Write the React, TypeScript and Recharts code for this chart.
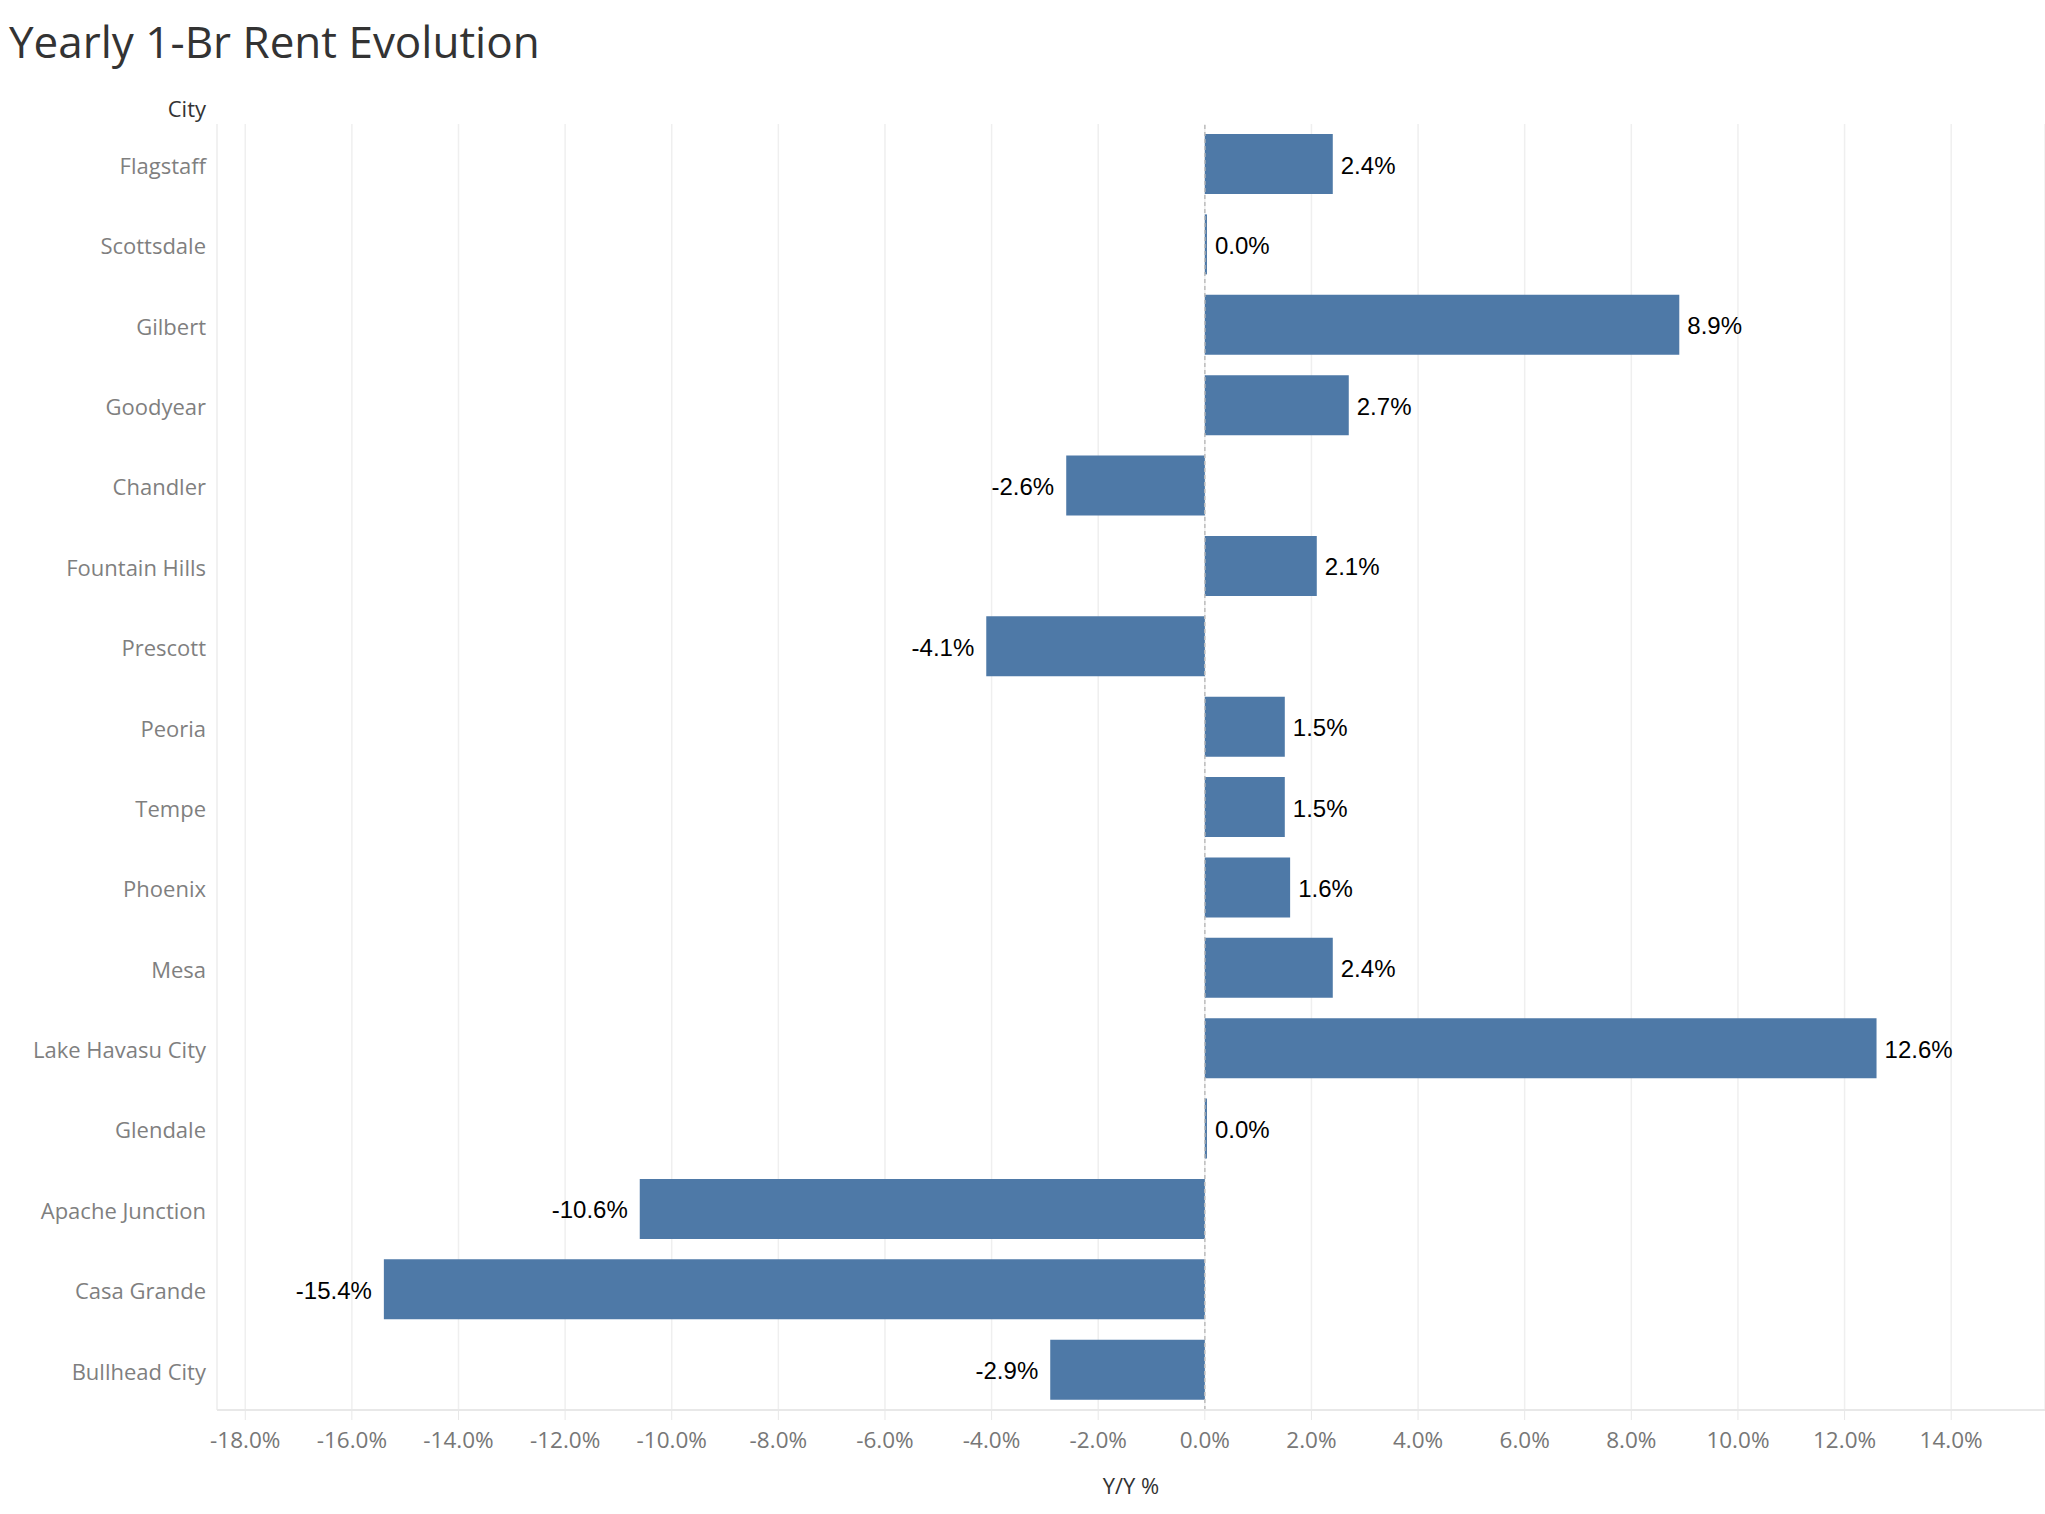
import { Bar, BarChart, CartesianGrid, LabelList, ReferenceLine, XAxis, YAxis } from "recharts";

const cities = [
  "Flagstaff",
  "Scottsdale",
  "Gilbert",
  "Goodyear",
  "Chandler",
  "Fountain Hills",
  "Prescott",
  "Peoria",
  "Tempe",
  "Phoenix",
  "Mesa",
  "Lake Havasu City",
  "Glendale",
  "Apache Junction",
  "Casa Grande",
  "Bullhead City"
];
const yoy = [2.4, 0.04, 8.9, 2.7, -2.6, 2.1, -4.1, 1.5, 1.5, 1.6, 2.4, 12.6, 0.04, -10.6, -15.4, -2.9];
const xTicks = [-18, -16, -14, -12, -10, -8, -6, -4, -2, 0, 2, 4, 6, 8, 10, 12, 14];
const xDomain = [-18.53, 15.76];

const data = cities.map((city, i) => ({ city, yoy: yoy[i] }));

const W = 2045;
const H = 1514;
const font = "'Open Sans', sans-serif";
const pct = (v: number) => `${v.toFixed(1)}%`;

function ValueLabel(props: any) {
  const { x, y, width, height, value } = props;
  const left = Math.min(x, x + width);
  const right = Math.max(x, x + width);
  const neg = value < 0;
  return (
    <text
      x={neg ? left - 12 : right + 8}
      y={y + height / 2 + 1}
      textAnchor={neg ? "end" : "start"}
      dominantBaseline="central"
      fill="#000"
      fontSize={24}
      fontFamily="'Liberation Sans', Arial, sans-serif"
    >
      {pct(value)}
    </text>
  );
}

export default function App() {
  return (
    <div style={{ position: "absolute", left: 0, top: 0, width: W, height: H, background: "#fff" }}>
      <BarChart
        width={W}
        height={H}
        data={data}
        layout="vertical"
        margin={{ top: 124, right: 0, bottom: 44, left: 0 }}
      >
        <CartesianGrid horizontal={false} stroke="#efefef" strokeWidth={1.5} />
        <XAxis
          type="number"
          domain={xDomain}
          ticks={xTicks}
          allowDataOverflow
          height={60}
          tickSize={10}
          tickMargin={12}
          tickFormatter={pct}
          stroke="#e8e8e8"
          axisLine={{ stroke: "#e8e8e8", strokeWidth: 2 }}
          tickLine={{ stroke: "#e8e8e8" }}
          tick={{ fill: "#777", fontSize: 22.5, fontFamily: font }}
        />
        <YAxis
          type="category"
          dataKey="city"
          width={217}
          interval={0}
          axisLine={false}
          tickLine={false}
          tickSize={0}
          tickMargin={11}
          tick={{ fill: "#7f7f7f", fontSize: 22, fontFamily: font, dy: 2 }}
        />
        <ReferenceLine x={xDomain[0]} stroke="#f0f0f0" strokeWidth={1.5} />
        <Bar dataKey="yoy" fill="#4e79a7" barSize={60} isAnimationActive={false}>
          <LabelList dataKey="yoy" content={ValueLabel} />
        </Bar>
        <ReferenceLine x={0} stroke="#bdbdbd" strokeWidth={1.5} strokeDasharray="4 3" />
      </BarChart>
      <svg width={W} height={H} style={{ position: "absolute", left: 0, top: 0, pointerEvents: "none" }}>
        <text x={9} y={58} fontSize={44} fill="#333" fontFamily={font}>
          Yearly 1-Br Rent Evolution
        </text>
        <text x={206} y={117} fontSize={22} fill="#333" textAnchor="end" fontFamily={font}>
          City
        </text>
        <text x={1131} y={1494} fontSize={22} fill="#333" textAnchor="middle" fontFamily={font}>
          Y/Y %
        </text>
      </svg>
    </div>
  );
}
